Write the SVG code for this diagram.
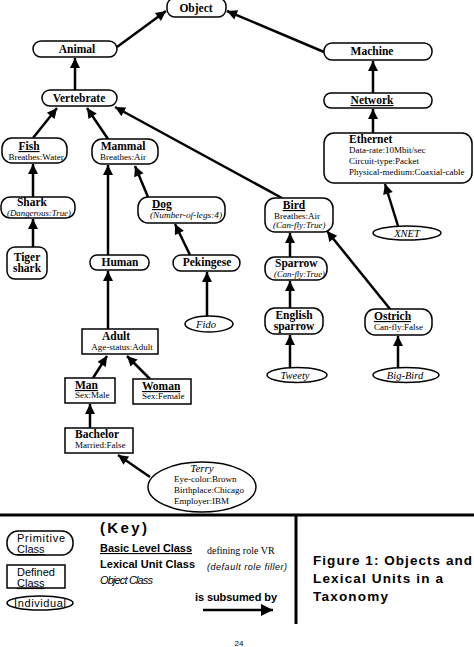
<svg xmlns="http://www.w3.org/2000/svg" width="474" height="647" viewBox="0 0 474 647">
<style>
.n{fill:#fff;stroke:#000;stroke-width:1.5}
.b{font-family:"Liberation Serif",serif;font-weight:bold;font-size:11.5px;fill:#000}
.s{font-family:"Liberation Serif",serif;font-size:9px;fill:#000}
.it{font-style:italic}
.m{text-anchor:middle}
.u{text-decoration:underline}
.c{stroke:#000;stroke-width:2.5;fill:none;marker-end:url(#ah)}
.k{font-family:"Liberation Sans",sans-serif;font-size:11px;fill:#000}
.kb{font-weight:bold}
.rule{stroke:#000;stroke-width:3}
</style>
<defs>
<marker id="ah" viewBox="0 0 10 10" refX="10" refY="5" markerWidth="12" markerHeight="10" markerUnits="userSpaceOnUse" orient="auto">
<path d="M0,0 L10,5 L0,10 z" fill="#000"/>
</marker>
<marker id="ahk" viewBox="0 0 10 10" refX="10" refY="5" markerWidth="16" markerHeight="12" markerUnits="userSpaceOnUse" orient="auto">
<path d="M0,0 L10,5 L0,10 z" fill="#000"/>
</marker>
</defs>
<rect width="474" height="647" fill="#fff"/>

<g id="connectors">
<line class="c" x1="117" y1="47" x2="166" y2="11"/>
<line class="c" x1="324" y1="52" x2="227" y2="11"/>
<line class="c" x1="75" y1="90" x2="75" y2="58"/>
<line class="c" x1="33" y1="138" x2="57" y2="108"/>
<line class="c" x1="108" y1="139" x2="87" y2="108"/>
<line class="c" x1="282" y1="198" x2="115" y2="107"/>
<line class="c" x1="33" y1="197" x2="33" y2="164"/>
<line class="c" x1="33" y1="247" x2="33" y2="219"/>
<line class="c" x1="108" y1="255" x2="108" y2="165"/>
<line class="c" x1="148" y1="197" x2="135" y2="166"/>
<line class="c" x1="190" y1="255" x2="175" y2="224"/>
<line class="c" x1="207" y1="316" x2="207" y2="272"/>
<line class="c" x1="108" y1="329" x2="108" y2="271"/>
<line class="c" x1="93" y1="378" x2="107" y2="356"/>
<line class="c" x1="150" y1="379" x2="127" y2="356"/>
<line class="c" x1="90" y1="428" x2="90" y2="404"/>
<line class="c" x1="150" y1="477" x2="118" y2="455"/>
<line class="c" x1="290" y1="257" x2="290" y2="233"/>
<line class="c" x1="290" y1="308" x2="290" y2="281"/>
<line class="c" x1="290" y1="367" x2="290" y2="335"/>
<line class="c" x1="390" y1="309" x2="327" y2="231"/>
<line class="c" x1="398" y1="367" x2="398" y2="336"/>
<line class="c" x1="373" y1="93" x2="373" y2="61"/>
<line class="c" x1="373" y1="133" x2="373" y2="109"/>
<line class="c" x1="398" y1="226" x2="385" y2="184"/>
</g>

<g id="object"><rect class="n" x="167" y="-2" width="59" height="19" rx="8"/><text class="b m" x="196" y="12">Object</text></g>
<g id="animal"><rect class="n" x="33" y="41" width="84" height="16" rx="8"/><text class="b m" x="77" y="53">Animal</text></g>
<g id="vertebrate"><rect class="n" x="42" y="90" width="75" height="16" rx="8"/><text class="b m" x="79" y="102">Vertebrate</text></g>
<g id="fish"><rect class="n" x="2" y="138" width="65" height="25" rx="10"/><text class="b m u" x="29" y="150">Fish</text><text class="s m" x="36" y="160">Breathes:Water</text></g>
<g id="mammal"><rect class="n" x="92" y="139" width="66" height="25" rx="10"/><text class="b m" x="123" y="150">Mammal</text><text class="s m" x="123" y="160">Breathes:Air</text></g>
<g id="shark"><rect class="n" x="1" y="197" width="74" height="21" rx="9"/><text class="b m" x="32" y="206">Shark</text><text class="s m it" x="39" y="216" textLength="64" lengthAdjust="spacingAndGlyphs">(Dangerous:True)</text></g>
<g id="tigershark"><rect class="n" x="7" y="247" width="40" height="32" rx="8"/><text class="b m" x="27" y="261">Tiger</text><text class="b m" x="27" y="272">shark</text></g>
<g id="human"><rect class="n" x="90" y="255" width="59" height="15" rx="7"/><text class="b m" x="120" y="266">Human</text></g>
<g id="dog"><rect class="n" x="138" y="197" width="87" height="26" rx="10"/><text class="b u" x="152" y="208">Dog</text><text class="s it" x="150" y="218" textLength="72" lengthAdjust="spacingAndGlyphs">(Number-of-legs:4)</text></g>
<g id="pekingese"><rect class="n" x="173" y="255" width="67" height="16" rx="8"/><text class="b m" x="207" y="266">Pekingese</text></g>
<g id="fido"><ellipse class="n" cx="209" cy="324" rx="24" ry="8"/><text class="s it m" x="206" y="328" style="font-size:10.5px">Fido</text></g>
<g id="adult"><rect class="n" x="82" y="329" width="76" height="25"/><text class="b m" x="116" y="340">Adult</text><text class="s m" x="122" y="350">Age-status:Adult</text></g>
<g id="man"><rect class="n" x="65" y="378" width="50" height="25"/><text class="b u" x="75" y="389">Man</text><text class="s" x="75" y="398">Sex:Male</text></g>
<g id="woman"><rect class="n" x="133" y="379" width="58" height="25"/><text class="b u" x="142" y="390">Woman</text><text class="s" x="142" y="399">Sex:Female</text></g>
<g id="bachelor"><rect class="n" x="65" y="428" width="68" height="25"/><text class="b" x="75" y="438">Bachelor</text><text class="s" x="75" y="448">Married:False</text></g>
<g id="terry"><ellipse class="n" cx="202" cy="487" rx="54" ry="25"/><text class="s it m" x="202" y="472" style="font-size:11px">Terry</text><text class="s" x="174" y="482">Eye-color:Brown</text><text class="s" x="174" y="493">Birthplace:Chicago</text><text class="s" x="174" y="504">Employer:IBM</text></g>
<g id="bird"><rect class="n" x="265" y="198" width="68" height="34" rx="10"/><text class="b m u" x="294" y="209">Bird</text><text class="s" x="274" y="219">Breathes:Air</text><text class="s it" x="273" y="228">(Can-fly:True)</text></g>
<g id="sparrow"><rect class="n" x="265" y="257" width="62" height="23" rx="10"/><text class="b" x="275" y="267">Sparrow</text><text class="s it" x="274" y="277" textLength="51" lengthAdjust="spacingAndGlyphs">(Can-fly:True)</text></g>
<g id="englishsparrow"><rect class="n" x="265" y="308" width="58" height="26" rx="10"/><text class="b m" x="294" y="319">English</text><text class="b m" x="294" y="330">sparrow</text></g>
<g id="tweety"><ellipse class="n" cx="297" cy="375" rx="30" ry="7.5"/><text class="s it m" x="295" y="379" style="font-size:10.5px">Tweety</text></g>
<g id="ostrich"><rect class="n" x="365" y="309" width="67" height="26" rx="10"/><text class="b u" x="374" y="320">Ostrich</text><text class="s" x="374" y="330">Can-fly:False</text></g>
<g id="bigbird"><ellipse class="n" cx="406" cy="375" rx="33" ry="7.5"/><text class="s it m" x="405" y="379" style="font-size:10.5px">Big-Bird</text></g>
<g id="machine"><rect class="n" x="324" y="43" width="108" height="17" rx="8"/><text class="b m" x="372" y="55">Machine</text></g>
<g id="network"><rect class="n" x="324" y="93" width="108" height="15" rx="7"/><text class="b m u" x="372" y="104">Network</text></g>
<g id="ethernet"><rect class="n" x="324" y="133" width="148" height="50" rx="10"/><text class="b" x="349" y="143" style="font-size:11.5px">Ethernet</text><text class="s" x="349" y="153">Data-rate:10Mbit/sec</text><text class="s" x="349" y="164">Circuit-type:Packet</text><text class="s" x="349" y="175">Physical-medium:Coaxial-cable</text></g>
<g id="xnet"><ellipse class="n" cx="407" cy="233" rx="34" ry="7"/><text class="s it m" x="407" y="237" style="font-size:10.5px">XNET</text></g>

<g id="key">
<line class="rule" x1="0" y1="515" x2="474" y2="515"/>
<line class="rule" x1="296" y1="515" x2="296" y2="624"/>
<text class="k kb" x="100" y="533" style="font-size:15px" textLength="47" lengthAdjust="spacing">(Key)</text>
<rect class="n" x="7" y="531" width="66" height="24" rx="11"/>
<text class="k" x="17" y="542" textLength="48" lengthAdjust="spacing">Primitive</text>
<text class="k u" x="17" y="553">Class</text>
<rect class="n" x="7" y="565" width="58" height="23"/>
<text class="k" x="17" y="576">Defined</text>
<text class="k u" x="17" y="587">Class</text>
<ellipse class="n" cx="40" cy="603" rx="33" ry="7"/>
<text class="k m" x="40" y="607" textLength="52" lengthAdjust="spacing">Individual</text>
<text class="k kb u" x="100" y="552" textLength="92" lengthAdjust="spacing">Basic Level Class</text>
<text class="k kb" x="100" y="568" textLength="95" lengthAdjust="spacing">Lexical Unit Class</text>
<text class="k it" x="100" y="584" textLength="53" lengthAdjust="spacing">Object Class</text>
<text class="s" x="207" y="554" style="font-size:10px">defining role VR</text>
<text class="k it" x="207" y="570" style="font-size:9px" textLength="80" lengthAdjust="spacing">(default role filler)</text>
<text class="k kb" x="195" y="601" textLength="82" lengthAdjust="spacing">is subsumed by</text>
<line x1="203" y1="610" x2="273" y2="610" stroke="#000" stroke-width="2.5" marker-end="url(#ahk)"/>
<text class="k kb" x="313" y="565" style="font-size:13.5px" textLength="159" lengthAdjust="spacing">Figure 1: Objects and</text>
<text class="k kb" x="313" y="583" style="font-size:13.5px" textLength="130" lengthAdjust="spacing">Lexical Units in a</text>
<text class="k kb" x="313" y="601" style="font-size:13.5px" textLength="75" lengthAdjust="spacing">Taxonomy</text>
<text class="k m" x="239" y="646" style="font-size:8px">24</text>
</g>
</svg>
